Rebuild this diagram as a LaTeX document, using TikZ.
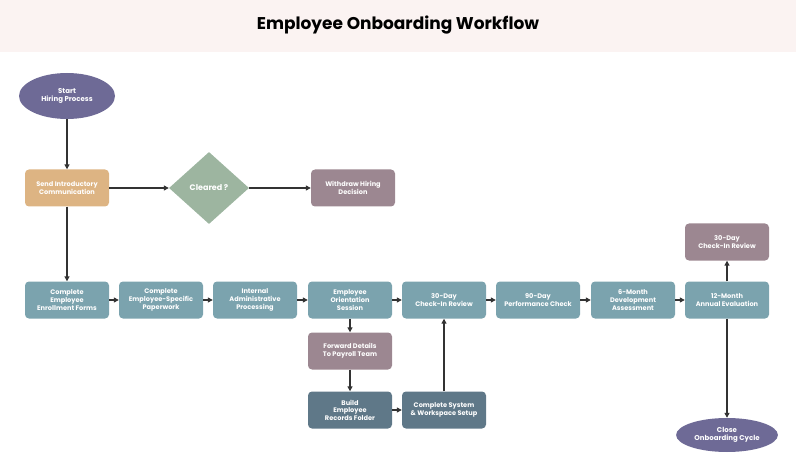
\documentclass[tikz,border=0pt]{standalone}
\usepackage{fontspec}
\setmainfont{Poppins}
\usetikzlibrary{shapes.geometric,arrows.meta}
\definecolor{cstart}{HTML}{6E6A96}
\definecolor{csend}{HTML}{DDB483}
\definecolor{cdia}{HTML}{9DB5A0}
\definecolor{cmauve}{HTML}{9C8791}
\definecolor{cteal}{HTML}{7BA3AE}
\definecolor{cdark}{HTML}{5F7888}
\definecolor{cband}{HTML}{FBF3F2}
\begin{document}
\begin{tikzpicture}[x=1pt,y=-1pt,
 box/.style={rounded corners=4pt,minimum width=84pt,minimum height=37pt,text=white,font=\fontsize{6.6}{7.6}\selectfont\bfseries,align=center,inner sep=1pt},
 term/.style={ellipse,minimum width=96pt,minimum height=46pt,fill=cstart,text=white,font=\fontsize{7}{8}\selectfont\bfseries,align=center},
 arr/.style={-{Triangle[length=5pt,width=5pt]},line width=1.2pt,draw=black!80}]
\useasboundingbox (0,0) rectangle (796,476);
\fill[cband] (0,0) rectangle (796,52);
\node[font=\fontsize{17}{20}\selectfont\bfseries] (title) at (398,25) {Employee Onboarding Workflow};
\node[term] (start) at (67,96) {Start\\Hiring Process};
\node[box,fill=csend] (send) at (67,188) {Send Introductory\\Communication};
\node[diamond,fill=cdia,minimum width=80pt,minimum height=72pt,inner sep=0pt,text=white,font=\fontsize{8}{9}\selectfont\bfseries] (dia) at (209,188) {Cleared ?};
\node[box,fill=cmauve] (wd) at (353,188) {Withdraw Hiring\\Decision};
\node[box,fill=cteal] (b1) at (67,300) {Complete\\Employee\\Enrollment Forms};
\node[box,fill=cteal] (b2) at (161,300) {Complete\\Employee-Specific\\Paperwork};
\node[box,fill=cteal] (b3) at (255,300) {Internal\\Administrative\\Processing};
\node[box,fill=cteal] (b4) at (350,300) {Employee\\Orientation\\Session};
\node[box,fill=cteal] (b5) at (444,300) {30-Day\\Check-In Review};
\node[box,fill=cteal] (b6) at (538,300) {90-Day\\Performance Check};
\node[box,fill=cteal] (b7) at (633,300) {6-Month\\Development\\Assessment};
\node[box,fill=cteal] (b8) at (727,300) {12-Month\\Annual Evaluation};
\node[box,fill=cmauve] (fw) at (350,351) {Forward Details\\To Payroll Team};
\node[box,fill=cdark] (bu) at (350,410) {Build\\Employee\\Records Folder};
\node[box,fill=cdark] (cs) at (444,410) {Complete System\\\& Workspace Setup};
\node[box,fill=cmauve] (r30) at (727,242) {30-Day\\Check-In Review};
\node[term,minimum width=85pt,minimum height=34pt] (close) at (727,435) {Close\\Onboarding Cycle};
\draw[arr] (start) -- (send);
\draw[arr] (send) -- (dia);
\draw[arr] (dia) -- (wd);
\draw[arr] (send) -- (b1);
\draw[arr] (b1) -- (b2);
\draw[arr] (b2) -- (b3);
\draw[arr] (b3) -- (b4);
\draw[arr] (b4) -- (b5);
\draw[arr] (b5) -- (b6);
\draw[arr] (b6) -- (b7);
\draw[arr] (b7) -- (b8);
\draw[arr] (b4) -- (fw);
\draw[arr] (fw) -- (bu);
\draw[arr] (bu) -- (cs);
\draw[arr] (cs) -- (b5);
\draw[arr] (b8) -- (r30);
\draw[arr] (b8) -- (close);
\end{tikzpicture}
\end{document}
